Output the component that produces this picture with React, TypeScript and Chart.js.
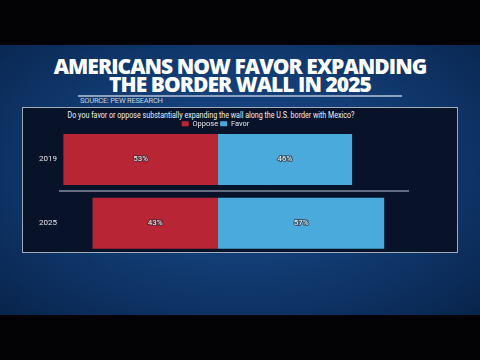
import React, { useEffect, useRef } from "react";
import { Chart, registerables } from "chart.js";

Chart.register(...registerables);

const years = ["2019", "2025"];
const opposeValues = [53, 43];
const favorValues = [46, 57];
const seriesNames = ["Oppose", "Favor"];
const headline = ["AMERICANS NOW FAVOR EXPANDING", "THE BORDER WALL IN 2025"];
const sourceText = "SOURCE: PEW RESEARCH";
const question = "Do you favor or oppose substantially expanding the wall along the U.S. border with Mexico?";

const RED = "#b82535";
const BLUE = "#4aaadb";

const barLabels = {
  id: "barLabels",
  afterDatasetsDraw(chart: any) {
    const ctx = chart.ctx;
    ctx.save();
    ctx.font = "8px Roboto, 'DejaVu Sans', sans-serif";
    ctx.textAlign = "center";
    ctx.textBaseline = "middle";
    chart.data.datasets.forEach((ds: any, di: number) => {
      const meta = chart.getDatasetMeta(di);
      meta.data.forEach((bar: any, i: number) => {
        const v = Math.abs(ds.data[i]);
        const x = (bar.x + bar.base) / 2;
        const y = bar.y;
        ctx.lineWidth = 2;
        ctx.strokeStyle = "rgba(40,40,50,0.6)";
        ctx.strokeText(v + "%", x, y);
        ctx.fillStyle = "#f2f2f2";
        ctx.fillText(v + "%", x, y);
      });
    });
    ctx.restore();
  },
};

// moves the legend down, closer to the bars, as in the reference
const legendNudge = {
  id: "legendNudge",
  afterLayout(chart: any) {
    const l = chart.legend;
    if (l) {
      l.top += 10;
      l.bottom += 10;
    }
  },
};

function BarChart() {
  const ref = useRef<HTMLCanvasElement>(null);
  useEffect(() => {
    if (!ref.current) return;
    const chart = new Chart(ref.current, {
      type: "bar",
      data: {
        labels: years,
        datasets: [
          { label: seriesNames[0], data: opposeValues.map((v) => -v), backgroundColor: RED },
          { label: seriesNames[1], data: favorValues, backgroundColor: BLUE },
        ],
      },
      options: {
        indexAxis: "y",
        responsive: false,
        animation: false,
        layout: { padding: { left: 0, right: 5, top: 0, bottom: 0 } },
        datasets: { bar: { categoryPercentage: 0.8, barPercentage: 1 } } as any,
        scales: {
          x: {
            stacked: true,
            min: -54.5,
            max: 65.5,
            afterFit: (s: any) => { s.height = 0; },
            ticks: { display: false, stepSize: 10 },
            border: { display: false },
            grid: {
              drawTicks: false,
              lineWidth: 1,
              color: (c: any) => (c.tick && c.tick.value === 0 ? "rgba(150,160,175,0.85)" : "rgba(0,0,0,0)"),
            },
          },
          y: {
            stacked: true,
            afterFit: (s: any) => { s.width = 37; },
            ticks: { color: "#e6e6e6", padding: 2, font: { size: 8, family: "Roboto, sans-serif" } },
            border: { display: false },
            grid: {
              offset: true,
              drawTicks: false,
              lineWidth: 2,
              color: (c: any) => (c.index === 1 ? "rgba(110,120,140,0.9)" : "rgba(0,0,0,0)"),
            },
          },
        },
        plugins: {
          title: { display: false },
          legend: {
            display: true,
            labels: {
              color: "#e6e6e6",
              boxWidth: 7,
              boxHeight: 5,
              padding: 2,
              font: { size: 7.5, family: "Roboto, sans-serif" },
            },
          },
          tooltip: { enabled: false },
        },
      },
      plugins: [barLabels, legendNudge],
    });
    return () => chart.destroy();
  }, []);
  return (
    <canvas
      ref={ref}
      width={392}
      height={154}
      style={{ position: "absolute", left: 22, top: 108, width: 392, height: 154 }}
    />
  );
}

export default function App() {
  return (
    <div
      style={{
        position: "absolute",
        left: 0,
        top: 0,
        width: 480,
        height: 360,
        background: "#030305",
        overflow: "hidden",
      }}
    >
      <div
        style={{
          position: "absolute",
          left: 0,
          top: 45,
          width: 480,
          height: 270,
          background:
            "radial-gradient(ellipse at 50% 45%, #17498a 0%, #123d75 45%, #0b2b58 85%, #08244a 100%)",
        }}
      />
      <div
        style={{
          position: "absolute",
          left: 0,
          top: 57,
          width: 480,
          textAlign: "center",
          color: "#ffffff",
          fontFamily: "'Open Sans', sans-serif",
          fontWeight: 800,
          fontSize: 21,
          lineHeight: "18px",
          letterSpacing: -0.95,
        }}
      >
        <div>{headline[0]}</div>
        <div>{headline[1]}</div>
      </div>
      <div
        style={{
          position: "absolute",
          left: 78,
          top: 95,
          width: 324,
          height: 1.5,
          background: "#8ea2bf",
        }}
      />
      <div
        style={{
          position: "absolute",
          left: 80,
          top: 96,
          fontFamily: "Roboto, sans-serif",
          fontSize: 7.5,
          color: "#c9d1dd",
          letterSpacing: -0.2,
        }}
      >
        {sourceText}
      </div>
      <div
        style={{
          position: "absolute",
          left: 22,
          top: 107,
          width: 434,
          height: 144,
          background: "rgba(8,18,38,0.96)",
          border: "1.5px solid #a2abb8",
        }}
      />
      <div
        style={{
          position: "absolute",
          left: 211,
          top: 110,
          whiteSpace: "nowrap",
          fontFamily: "Roboto, sans-serif",
          fontSize: 9,
          lineHeight: "11px",
          color: "#f0f0f0",
          transform: "translateX(-50%) scaleX(0.79)",
          transformOrigin: "center",
        }}
      >
        {question}
      </div>
      <BarChart />
    </div>
  );
}
